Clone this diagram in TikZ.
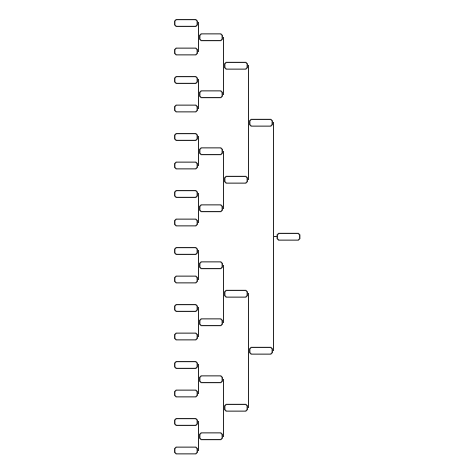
\documentclass[tikz,border=0pt]{standalone}
\begin{document}
\begin{tikzpicture}[x=1pt,y=-1pt,
  bx/.style={draw=black!85,line width=1.1pt,rounded corners=1.6pt,minimum width=22.5pt,minimum height=6.8pt,inner sep=0pt,fill=white},
  ln/.style={draw=black!85,line width=1.1pt}]
\fill[white] (0,0) rectangle (474,474);
\useasboundingbox (0,0) rectangle (474,474);
% round 1
\foreach \i in {0,...,15}
  \node[bx] (a\i) at ({186},{23+28.5*\i}) {};
% round 2
\foreach \j in {0,...,7}
  \node[bx] (b\j) at ({211},{23+28.5*(2*\j+0.5)}) {};
% round 3
\foreach \k in {0,...,3}
  \node[bx] (c\k) at ({236},{23+28.5*(4*\k+1.5)}) {};
% round 4
\foreach \m in {0,1}
  \node[bx] (d\m) at ({261},{23+28.5*(8*\m+3.5)}) {};
% final
\node[bx] (e) at ({288.5},{23+28.5*7.5}) {};
% connectors round 1 -> 2
\foreach \j in {0,...,7}{
  \pgfmathtruncatemacro{\p}{2*\j}
  \pgfmathtruncatemacro{\q}{2*\j+1}
  \coordinate (ta\p) at ([xshift=1pt]a\p.east);
  \coordinate (ta\q) at ([xshift=1pt]a\q.east);
  \draw[ln] (a\p.east) -- (ta\p) -- (ta\q) -- (a\q.east);
  \draw[ln] (b\j.west) -- (b\j.west -| ta\p);
}
% round 2 -> 3
\foreach \k in {0,...,3}{
  \pgfmathtruncatemacro{\p}{2*\k}
  \pgfmathtruncatemacro{\q}{2*\k+1}
  \coordinate (tb\p) at ([xshift=1pt]b\p.east);
  \coordinate (tb\q) at ([xshift=1pt]b\q.east);
  \draw[ln] (b\p.east) -- (tb\p) -- (tb\q) -- (b\q.east);
  \draw[ln] (c\k.west) -- (c\k.west -| tb\p);
}
% round 3 -> 4
\foreach \m in {0,1}{
  \pgfmathtruncatemacro{\p}{2*\m}
  \pgfmathtruncatemacro{\q}{2*\m+1}
  \coordinate (tc\p) at ([xshift=1pt]c\p.east);
  \coordinate (tc\q) at ([xshift=1pt]c\q.east);
  \draw[ln] (c\p.east) -- (tc\p) -- (tc\q) -- (c\q.east);
  \draw[ln] (d\m.west) -- (d\m.west -| tc\p);
}
% round 4 -> final
\coordinate (td0) at ([xshift=1pt]d0.east);
\coordinate (td1) at ([xshift=1pt]d1.east);
\draw[ln] (d0.east) -- (td0) -- (td1) -- (d1.east);
\draw[ln] (e.west) -- (e.west -| td0);
\end{tikzpicture}
\end{document}
